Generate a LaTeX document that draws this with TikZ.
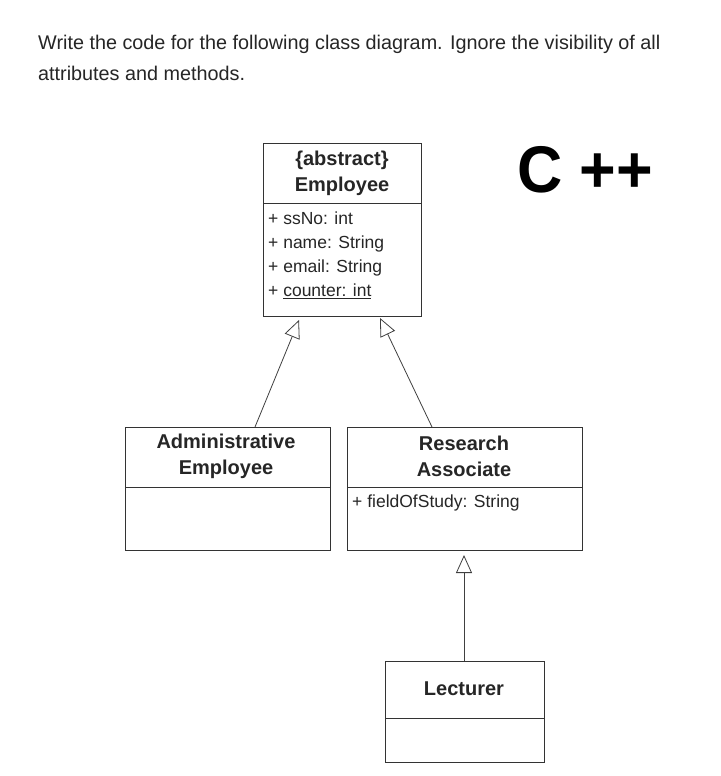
\documentclass[tikz,border=0pt]{standalone}
\usepackage{fontspec}
\setmainfont{Liberation Sans}
\usetikzlibrary{arrows.meta}
\begin{document}
\begin{tikzpicture}[x=1pt,y=-1pt,
  box/.style={draw=black!80,line width=0.9pt},
  cname/.style={font=\fontsize{20}{26}\selectfont\bfseries,align=center,text=black!85},
  attr/.style={font=\fontsize{17.5}{24}\selectfont,align=left,anchor=north west,text=black!85,inner sep=0pt},
  gen/.style={draw=black!75,line width=0.8pt,-{Triangle[open,length=18pt,width=16pt]}}]
\useasboundingbox (0,0) rectangle (720,776);
\fill[white] (0,0) rectangle (720,776);
\node[anchor=west,font=\fontsize{19.8}{22}\selectfont,text=black!85,inner sep=0pt] (h1) at (38,44) {Write the code for the following class diagram. Ignore the visibility of all};
\node[anchor=west,font=\fontsize{19.8}{22}\selectfont,text=black!85,inner sep=0pt] (h2) at (38,73) {attributes and methods.};
\node[font=\fontsize{66}{68}\selectfont\bfseries,inner sep=0pt,xscale=0.95] (cpp) at (585,170) {C ++};
% Employee
\draw[box] (263,143) rectangle (421,316); \draw[box] (263,203) -- (421,203);
\node[cname] (emp) at (342,173) {\{abstract\}\\Employee};
\node[attr] (empa) at (268,212) {+ ssNo: int\\+ name: String\\+ email: String\\+ \underline{counter: int}};
% Admin
\draw[box] (125,427) rectangle (330,550); \draw[box] (125,487) -- (330,487);
\node[cname] (adm) at (226,456) {Administrative\\Employee};
% Research
\draw[box] (347,427) rectangle (582,550); \draw[box] (347,487) -- (582,487);
\node[cname] (res) at (464,456) {Research\\Associate};
\node[attr] (resa) at (352,495) {+ fieldOfStudy: String};
% Lecturer
\draw[box] (385,661) rectangle (544,762); \draw[box] (385,718) -- (544,718);
\node[cname] (lec) at (464,689) {Lecturer};
% arrows
\coordinate (a1) at (255,427); \coordinate (t1) at (299,320);
\coordinate (a2) at (432,427); \coordinate (t2) at (380,318);
\coordinate (a3) at (464,661); \coordinate (t3) at (464,555);
\draw[gen] (a1) -- (t1);
\draw[gen] (a2) -- (t2);
\draw[gen] (a3) -- (t3);
\end{tikzpicture}
\end{document}
